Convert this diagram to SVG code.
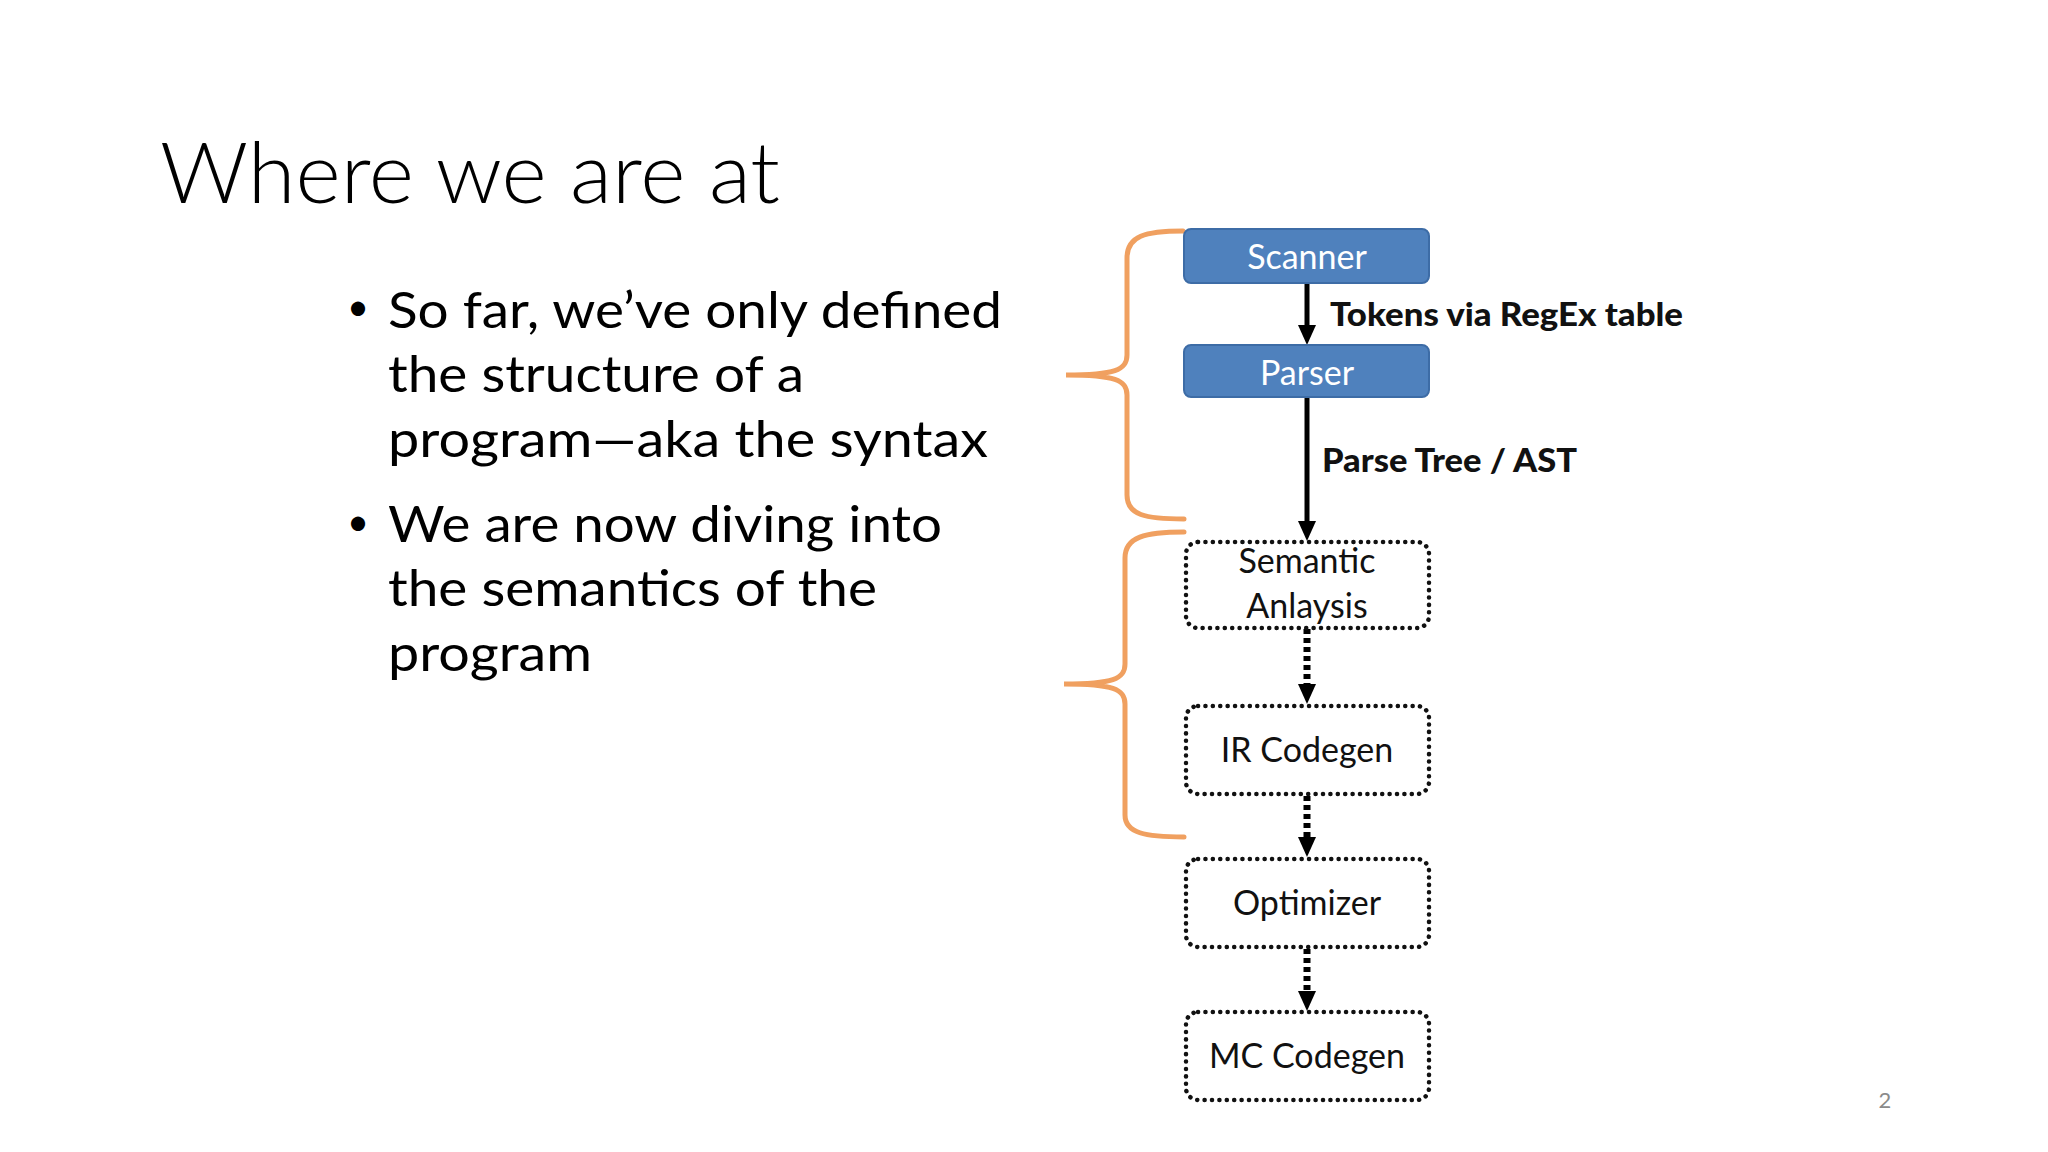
<svg xmlns="http://www.w3.org/2000/svg" width="2048" height="1152" viewBox="0 0 2048 1152">
  <style>
    .title { font-family: Lato, "Open Sans", sans-serif; font-weight: 300; font-size: 84px; fill: #000; }
    .body { font-family: Lato, "Open Sans", sans-serif; font-size: 50px; fill: #000; }
    .bullet { font-family: Lato, "Open Sans", sans-serif; font-size: 38px; fill: #000; text-anchor: middle; }
    .bnode rect { fill: #4f81bd; stroke: #3d6ca6; stroke-width: 2; }
    .bnode text { font-family: Lato, "Open Sans", sans-serif; font-size: 34px; fill: #fff; text-anchor: middle; }
    .dnode rect { fill: none; stroke: #111; stroke-width: 4.5; stroke-dasharray: 0.1 7.3; stroke-linecap: round; }
    .dnode text { font-family: Lato, "Open Sans", sans-serif; font-size: 34px; fill: #111; text-anchor: middle; }
    .lbl { font-family: Lato, "Open Sans", sans-serif; font-weight: 900; font-size: 32px; fill: #111; }
    .solid { stroke: #000; stroke-width: 5; fill: none; }
    .dotted { stroke: #000; stroke-width: 7; fill: none; stroke-dasharray: 5 4; }
    .brace { stroke: #f0a060; stroke-width: 5; fill: none; stroke-linecap: round; }
    .pnum { font-family: Lato, "Open Sans", sans-serif; font-size: 22px; fill: #8a8a8a; text-anchor: middle; }
  </style>
  <defs>
    <marker id="ah" markerUnits="userSpaceOnUse" markerWidth="20" markerHeight="18" refX="2" refY="9" orient="auto">
      <path d="M0,0 L20,9 L0,18 z" fill="#000"/>
    </marker>
  </defs>
  <rect width="2048" height="1152" fill="#fff"/>

  <text class="title" x="160" y="203" textLength="620" lengthAdjust="spacingAndGlyphs">Where we are at</text>

  <g id="bullets">
    <text class="bullet" x="358" y="320">•</text>
    <text class="body" x="388" y="328" textLength="614" lengthAdjust="spacingAndGlyphs">So far, we’ve only defined</text>
    <text class="body" x="388" y="392" textLength="416" lengthAdjust="spacingAndGlyphs">the structure of a</text>
    <text class="body" x="388" y="457" textLength="600" lengthAdjust="spacingAndGlyphs">program—aka the syntax</text>
    <text class="bullet" x="358" y="535">•</text>
    <text class="body" x="388" y="542" textLength="554" lengthAdjust="spacingAndGlyphs">We are now diving into</text>
    <text class="body" x="388" y="606" textLength="489" lengthAdjust="spacingAndGlyphs">the semantics of the</text>
    <text class="body" x="388" y="671" textLength="204" lengthAdjust="spacingAndGlyphs">program</text>
  </g>

  <g id="braces">
    <path class="brace" d="M1183,231 C1145,231 1127,236 1127,258 L1127,355 C1127,370 1115,375 1066,375 C1115,375 1127,380 1127,395 L1127,495 C1127,515 1145,519 1184,519"/>
    <path class="brace" d="M1184,532 C1145,532 1125,537 1125,558 L1125,664 C1125,679 1113,684 1064,684 C1113,684 1125,689 1125,704 L1125,815 C1125,833 1145,837 1184,837"/>
  </g>

  <g id="connectors">
    <line class="solid" x1="1307" y1="283" x2="1307" y2="327" marker-end="url(#ah)"/>
    <line class="solid" x1="1307" y1="397" x2="1307" y2="523" marker-end="url(#ah)"/>
    <line class="dotted" x1="1307" y1="629" x2="1307" y2="686" marker-end="url(#ah)"/>
    <line class="dotted" x1="1307" y1="796" x2="1307" y2="839" marker-end="url(#ah)"/>
    <line class="dotted" x1="1307" y1="949" x2="1307" y2="993" marker-end="url(#ah)"/>
    <text class="lbl" x="1330" y="326" textLength="353" lengthAdjust="spacingAndGlyphs">Tokens via RegEx table</text>
    <text class="lbl" x="1322" y="472" textLength="255" lengthAdjust="spacingAndGlyphs">Parse Tree / AST</text>
  </g>

  <g id="scanner" class="bnode">
    <rect x="1184" y="229" width="245" height="54" rx="7"/>
    <text x="1307" y="269">Scanner</text>
  </g>
  <g id="parser" class="bnode">
    <rect x="1184" y="345" width="245" height="52" rx="7"/>
    <text x="1307" y="385">Parser</text>
  </g>
  <g id="semantic" class="dnode">
    <rect x="1186" y="542" width="243" height="86" rx="12"/>
    <text x="1307" y="573">Semantic</text>
    <text x="1307" y="618">Anlaysis</text>
  </g>
  <g id="ircodegen" class="dnode">
    <rect x="1186" y="706" width="243" height="88" rx="12"/>
    <text x="1307" y="762">IR Codegen</text>
  </g>
  <g id="optimizer" class="dnode">
    <rect x="1186" y="859" width="243" height="88" rx="12"/>
    <text x="1307" y="915">Optimizer</text>
  </g>
  <g id="mccodegen" class="dnode">
    <rect x="1186" y="1012" width="243" height="88" rx="12"/>
    <text x="1307" y="1068">MC Codegen</text>
  </g>

  <text class="pnum" x="1885" y="1108">2</text>
</svg>
